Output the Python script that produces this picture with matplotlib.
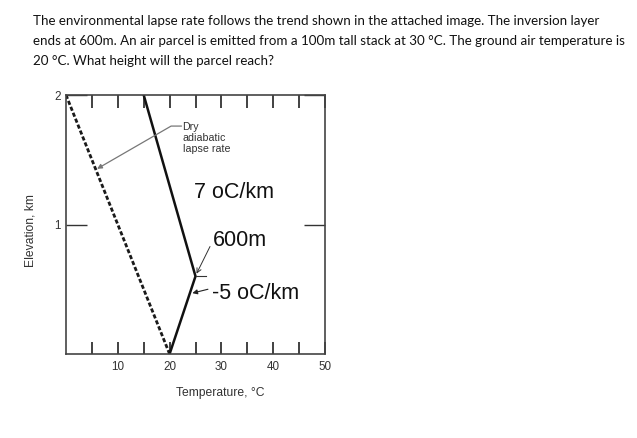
import matplotlib.pyplot as plt

# question text
question = ["The environmental lapse rate follows the trend shown in the attached image. The inversion layer",
            "ends at 600m. An air parcel is emitted from a 100m tall stack at 30 \u00b0C. The ground air temperature is",
            "20 \u00b0C. What height will the parcel reach?"]

# profiles (temperature in C, elevation in km)
dry_temp = [0, 20]
dry_elev = [2, 0]
env_temp = [20, 25, 15]
env_elev = [0, 0.6, 2]

xticks_major = [10, 20, 30, 40, 50]
xticks_minor = [5, 15, 25, 35, 45]
yticks = [1, 2]

W, H = 637, 438
fig = plt.figure(figsize=(W / 100, H / 100), dpi=100)
plt.rcParams['font.family'] = ['Liberation Sans', 'DejaVu Sans']

for i, line in enumerate(question):
    fig.text(33 / W, 1 - (21 + 20 * i) / H, line, family=['Lato', 'DejaVu Sans'],
             fontsize=9.65, color='#111111', va='center', ha='left')

ax = fig.add_axes([66 / W, (H - 354) / H, (325 - 66) / W, (354 - 95) / H])
ax.set_xlim(0, 50)
ax.set_ylim(0, 2)

ax.plot(dry_temp, dry_elev, color='#1a1a1a', lw=2.0, ls=(0, (1.5, 0.8)))
ax.plot(env_temp, env_elev, color='#111111', lw=1.8, solid_joinstyle='miter')

for s in ax.spines.values():
    s.set_color('#444444')
    s.set_linewidth(1.2)

ax.set_xticks(xticks_major)
ax.set_xticks(xticks_minor, minor=True)
ax.set_yticks(yticks)
ax.tick_params(axis='x', which='both', direction='in', top=True, length=9, width=1.3,
               color='#333333', labelsize=8.4, labelcolor='#333333', pad=5)
ax.tick_params(axis='y', which='both', direction='in', right=True, length=15, width=1.0,
               color='#333333', labelsize=8.4, labelcolor='#333333', pad=4)
ax.set_xlabel('Temperature, \u00b0C', fontsize=8.7, color='#333333')
ax.set_ylabel('Elevation, km', fontsize=8.7, color='#333333')
ax.xaxis.set_label_coords(0.595, -0.128)
ax.yaxis.set_label_coords(-0.115, 0.475)

# dry adiabatic label and leader
ax.text(22.5, 1.795, 'Dry\nadiabatic\nlapse rate', fontsize=7.7, color='#333333',
        va='top', ha='left', linespacing=1.15)
ax.annotate('', xy=(6.0, 1.43), xytext=(22.3, 1.76),
            arrowprops=dict(arrowstyle='-|>', color='#777777', lw=0.9,
                            connectionstyle='angle,angleA=180,angleB=30,rad=0',
                            mutation_scale=7, shrinkA=0, shrinkB=0))

ax.text(24.7, 1.25, '7 oC/km', fontsize=15.5, color='#111111', va='center', ha='left')
ax.text(28.3, 0.88, '600m', fontsize=15.5, color='#111111', va='center', ha='left')
ax.text(28.2, 0.47, '-5 oC/km', fontsize=15.5, color='#111111', va='center', ha='left')

ax.annotate('', xy=(25.2, 0.62), xytext=(27.8, 0.83),
            arrowprops=dict(arrowstyle='->', color='#333333', lw=0.7,
                            mutation_scale=8, shrinkA=0, shrinkB=0))
ax.plot([25, 27], [0.6, 0.6], color='#333333', lw=0.8)
ax.annotate('', xy=(24.4, 0.47), xytext=(27.4, 0.5),
            arrowprops=dict(arrowstyle='-|>', color='#222222', lw=0.8,
                            mutation_scale=7, shrinkA=0, shrinkB=0))

fig.savefig('out.png', dpi=100)
